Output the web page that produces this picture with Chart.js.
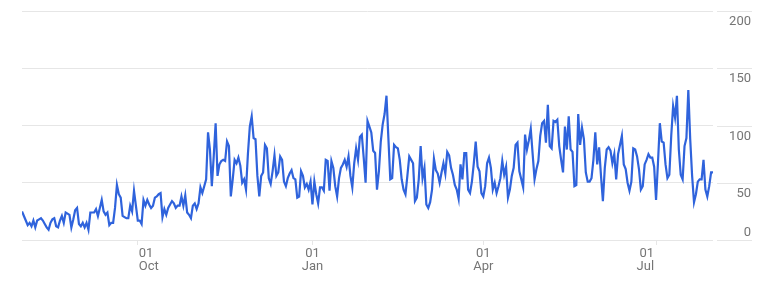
<!DOCTYPE html>
<html>
<head>
<meta charset="utf-8">
<script src="https://cdn.jsdelivr.net/npm/chart.js@4/dist/chart.umd.min.js"></script>
<style>
  html, body { margin: 0; padding: 0; background: #fff; }
  #chart { display: block; }
</style>
</head>
<body>
<canvas id="chart" width="765" height="283"></canvas>
<script>
// daily values, 1 Aug -> 31 Jul (one per day)
const values = [
  25, 21, 17, 13, 15, 12, 17, 11, 17, 18,
  19, 17, 14, 11, 9, 15, 18, 19, 12, 11,
  17, 21, 15, 24, 23, 22, 11, 18, 26, 28,
  14, 12, 15, 11, 15, 9, 24, 24, 24, 27,
  21, 28, 35, 25, 22, 24, 13, 15, 15, 28,
  48, 40, 37, 21, 20, 19, 19, 30, 25, 43,
  30, 17, 17, 14, 35, 30, 35, 31, 28, 30,
  37, 38, 40, 41, 20, 27, 22, 28, 31, 34,
  32, 28, 30, 30, 38, 30, 39, 24, 22, 19,
  30, 32, 27, 32, 46, 41, 47, 53, 94, 79,
  47, 73, 102, 56, 66, 69, 70, 69, 86, 82,
  38, 53, 70, 67, 72, 65, 50, 53, 44, 75,
  99, 108, 89, 88, 56, 38, 56, 59, 83, 80,
  54, 49, 60, 74, 56, 59, 73, 70, 51, 47,
  54, 58, 61, 54, 53, 37, 38, 60, 56, 46,
  49, 44, 51, 31, 51, 40, 32, 46, 46, 43,
  70, 69, 43, 69, 63, 47, 38, 54, 63, 66,
  70, 64, 73, 56, 46, 67, 80, 70, 90, 92,
  72, 50, 104, 99, 94, 78, 76, 44, 60, 86,
  101, 110, 126, 89, 53, 54, 83, 81, 80, 70,
  53, 44, 40, 56, 73, 70, 67, 34, 37, 53,
  82, 54, 63, 31, 28, 33, 44, 71, 61, 58,
  50, 59, 67, 58, 77, 74, 63, 57, 48, 44,
  36, 66, 53, 76, 76, 44, 41, 51, 67, 86,
  64, 60, 41, 38, 47, 67, 72, 63, 44, 50,
  41, 47, 54, 69, 57, 64, 37, 44, 56, 63,
  83, 85, 60, 53, 46, 92, 79, 87, 97, 75,
  53, 62, 69, 91, 102, 104, 85, 118, 82, 80,
  104, 103, 105, 82, 70, 59, 99, 79, 108, 79,
  77, 47, 48, 110, 83, 98, 88, 59, 51, 51,
  54, 70, 94, 66, 81, 56, 34, 63, 79, 81,
  78, 67, 75, 53, 75, 83, 91, 66, 62, 50,
  43, 51, 80, 79, 73, 62, 44, 47, 66, 70,
  75, 72, 72, 64, 35, 67, 102, 86, 85, 66,
  54, 57, 91, 117, 107, 126, 79, 57, 53, 82,
  89, 131, 88, 56, 33, 40, 51, 53, 53, 70,
  44, 38, 47, 59, 59
];

// tick positions are day offsets from 1 Aug
const tickDays = [61, 153, 243, 334];
const tickDayLabels = ['01', '01', '01', '01'];
const tickMonthLabels = ['Oct', 'Jan', 'Apr', 'Jul'];
const yTicks = [0, 50, 100, 150, 200];

const gridColor = '#e6e6e6';
const labelColor = '#757575';
const labelFont = '13px Roboto';

// draws the axis labels the way the original places them
const axisLabels = {
  id: 'axisLabels',
  afterDraw(chart) {
    const { ctx, chartArea, scales: { x, y } } = chart;
    ctx.save();
    ctx.font = labelFont;
    ctx.fillStyle = labelColor;
    ctx.strokeStyle = gridColor;
    ctx.lineWidth = 1;

    yTicks.forEach(v => {
      const py = Math.round(y.getPixelForValue(v)) + 0.5;
      ctx.beginPath();
      ctx.moveTo(chartArea.right + 4, py);
      ctx.lineTo(752, py);
      ctx.stroke();
      ctx.textAlign = 'right';
      ctx.fillText(String(v), 751, v === 0 ? py - 5 : py + 13);
    });

    tickDays.forEach((d, i) => {
      const px = x.getPixelForValue(d);
      let align = 'center';
      let tx = px;
      if (i === 0) { align = 'left'; tx = px + 1; }
      if (i === tickDays.length - 1) { align = 'right'; tx = px - 2; }
      ctx.textAlign = align;
      ctx.fillText(tickDayLabels[i], tx, 257);
      ctx.fillText(tickMonthLabels[i], tx, 270);
    });
    ctx.restore();
  }
};

new Chart(document.getElementById('chart'), {
  type: 'line',
  data: {
    datasets: [{
      data: values.map((v, i) => ({ x: i, y: v })),
      borderColor: '#2f63dc',
      borderWidth: 2.2,
      pointRadius: 0,
      tension: 0,
      fill: false
    }]
  },
  options: {
    responsive: false,
    animation: false,
    layout: { padding: { left: 22, top: 11, right: 0, bottom: 0 } },
    plugins: { legend: { display: false }, tooltip: { enabled: false } },
    scales: {
      x: {
        type: 'linear',
        min: 0,
        max: values.length - 1,
        afterBuildTicks: scale => { scale.ticks = tickDays.map(d => ({ value: d })); },
        afterFit: scale => { scale.height = 43; },
        ticks: { display: false },
        border: { display: false },
        grid: { drawOnChartArea: false, drawTicks: true, tickLength: 5, color: gridColor }
      },
      y: {
        position: 'right',
        min: 0,
        max: 200,
        afterFit: scale => { scale.width = 52; },
        ticks: { display: false, stepSize: 50 },
        border: { display: false },
        grid: { color: gridColor, drawTicks: false }
      }
    }
  },
  plugins: [axisLabels]
});
</script>
</body>
</html>
